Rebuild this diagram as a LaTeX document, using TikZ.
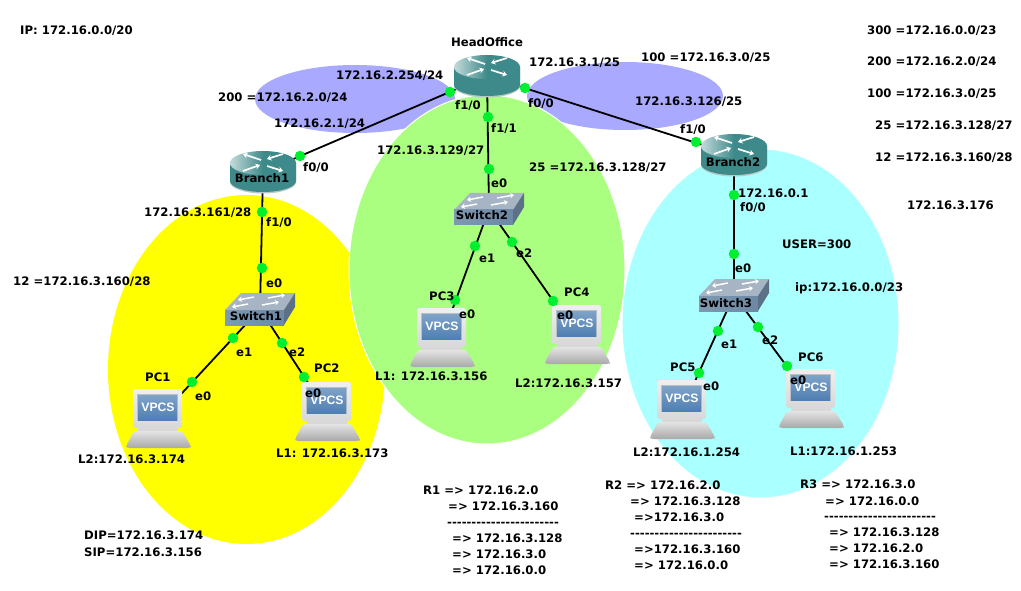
\documentclass[tikz,border=0pt]{standalone}
\usepackage{fontspec}
\setmainfont{DejaVu Sans}
\newfontfamily\vpfont{Liberation Sans}
\usetikzlibrary{arrows.meta}
\definecolor{lav}{HTML}{A9A9FF}
\definecolor{grn}{HTML}{AAFF80}
\definecolor{cyn}{HTML}{AAFFFF}
\definecolor{yel}{HTML}{FFFF00}
\definecolor{teal1}{HTML}{3E8A8A}
\definecolor{tealhi}{HTML}{C4DADA}
\definecolor{dotc}{HTML}{00F030}
\definecolor{swfront}{HTML}{6C88A4}
\definecolor{swfront2}{HTML}{7F99B2}
\definecolor{swtop}{HTML}{A6B4C4}
\definecolor{swside}{HTML}{5C7088}
\definecolor{scr1}{HTML}{4F7FB2}
\definecolor{scr2}{HTML}{7FA3C8}
\definecolor{scrb}{HTML}{B8C0C8}
\definecolor{pc1c}{HTML}{EFEFEF}
\definecolor{pc2c}{HTML}{D8D8D8}
\definecolor{pcb1}{HTML}{E4E4E4}
\definecolor{pcb2}{HTML}{A8A8A8}
\definecolor{shad}{HTML}{B8C8C8}
\newcommand{\labfont}{\fontsize{11.7}{14}\selectfont\bfseries}
\tikzset{
  lab/.style={anchor=west,inner sep=0pt,text height=9pt,text depth=0pt,font=\labfont,text=black},
  clab/.style={lab,anchor=center},
  devlab/.style={clab},
  zone/.style={draw=white,line width=1pt},
  link/.style={draw=black,line width=1.8pt},
  dot/.style={circle,fill=dotc,draw=none,minimum size=10.5pt,inner sep=0pt},
  arw/.style={draw=white,line width=1.7pt,-{Stealth[length=4.5pt,width=6pt]}},
  arws/.style={draw=white,line width=1.5pt,-{Stealth[length=4pt,width=5.5pt]}},
  router/.pic={
    \fill[shad] (-33,-9) -- (-33,10) arc[start angle=180,end angle=0,x radius=33,y radius=11.5] -- (33,-9) -- cycle;
    \fill[teal1] (-33,-9) -- (-33,9) arc[start angle=180,end angle=0,x radius=33,y radius=11] -- (33,-9) -- cycle;
    \shade[left color=tealhi,right color=teal1,middle color=teal1] (0,-9) ellipse[x radius=33,y radius=12];
    \draw[arw] (-2,-12) -- (-20,-18);
    \draw[arw] (20,-18) -- (4,-13);
    \draw[arw] (4,-6) -- (20,-1);
    \draw[arw] (-20,-1) -- (-3,-7);
  },
  swbox/.pic={
    \fill[swtop] (-35,1) -- (-19,-16) -- (35,-16) -- (24,1) -- cycle;
    \shade[left color=swfront2,right color=swfront] (-35,1) rectangle (24,16);
    \fill[swside] (24,1) -- (35,-16) -- (35,-2) -- (24,16) -- cycle;
    \draw[arws] (-6,-12) -- (-22,-9);
    \draw[arws] (8,-11) -- (25,-14);
    \draw[arws] (-12,-5) -- (-28,-2);
    \draw[arws] (2,-4) -- (19,-7);
  },
  vpcs/.pic={
    \fill[pc2c] (-20,8) rectangle (20,13);
    \shade[top color=pcb1,bottom color=pcb2,rounded corners=2.5pt] (-24,12) -- (24,12) -- (33,27) -- (32,29) -- (-31,29) -- (-32,27) -- cycle;
    \shade[top color=pc1c,bottom color=pc2c,rounded corners=2.5pt] (-25,-30) rectangle (24,9);
    \fill[scrb] (-21,-25) rectangle (20,2);
    \shade[top color=scr2,bottom color=scr1] (-20,-24) rectangle (19,1);
  },
}
\newcommand{\lab}[4]{\node[lab] (#1) at (#2,#3) {#4};}
\newcommand{\dashrow}{-{}-{}-{}-{}-{}-{}-{}-{}-{}-{}-{}-{}-{}-{}-{}-{}-{}-{}-{}-{}-{}-{}-}
\begin{document}
\begin{tikzpicture}[x=1pt,y=-1pt]
\useasboundingbox (0,0) rectangle (1021,591);
\fill[white] (0,0) rectangle (1021,591);
% zones
\fill[lav] (355,99) ellipse[x radius=100,y radius=34];
\fill[lav] (625,96) ellipse[x radius=98,y radius=34];
\fill[yel] (246.5,369.5) ellipse[x radius=138.5,y radius=174.5];
\path[zone,fill=grn] (487,269.5) ellipse[x radius=138,y radius=174.5];
\path[zone,fill=cyn] (760.5,323.5) ellipse[x radius=138.5,y radius=174.5];
% device centres
\coordinate (ho) at (487,76);
\coordinate (br1) at (263,172);
\coordinate (br2) at (734,155);
\coordinate (sw1) at (260,309);
\coordinate (sw2) at (489,209);
\coordinate (sw3) at (734,295);
\coordinate (pc1) at (158,419);
\coordinate (pc2) at (327,412);
\coordinate (pc3) at (442,338);
\coordinate (pc4) at (577,335);
\coordinate (pc5) at (682,410);
\coordinate (pc6) at (811,399);
% links
\draw[link] (ho) -- (br1);
\draw[link] (ho) -- (br2);
\draw[link] (ho) -- (sw2);
\draw[link] (br1) -- (sw1);
\draw[link] (br2) -- (sw3);
\draw[link] (sw1) -- (pc1);
\draw[link] (sw1) -- (pc2);
\draw[link] (sw2) -- (pc3);
\draw[link] (sw2) -- (pc4);
\draw[link] (sw3) -- (pc5);
\draw[link] (sw3) -- (pc6);
% devices
\pic at (ho) {router};
\pic at (br1) {router};
\pic at (br2) {router};
\pic at (sw1) {swbox};
\pic at (sw2) {swbox};
\pic at (sw3) {swbox};
\foreach \p in {pc1,pc2,pc3,pc4,pc5,pc6}{
  \pic at (\p) {vpcs};
  \node[inner sep=0pt,text=white,font=\vpfont\fontsize{12.2}{14}\selectfont\bfseries] (\p txt) at ([yshift=11.5pt]\p) {VPCS};
}
% interface dots
\node[dot] (d1) at (450,92) {};
\node[dot] (d2) at (525,88) {};
\node[dot] (d3) at (488,117) {};
\node[dot] (d4) at (489,169) {};
\node[dot] (d5) at (300,156) {};
\node[dot] (d6) at (262,212) {};
\node[dot] (d7) at (262,268) {};
\node[dot] (d8) at (233,338) {};
\node[dot] (d9) at (282,343) {};
\node[dot] (d10) at (192,382) {};
\node[dot] (d11) at (304,377) {};
\node[dot] (d12) at (475,246) {};
\node[dot] (d13) at (512,242) {};
\node[dot] (d14) at (455,300) {};
\node[dot] (d15) at (553,301) {};
\node[dot] (d16) at (696,142) {};
\node[dot] (d17) at (734,195) {};
\node[dot] (d18) at (734,254) {};
\node[dot] (d19) at (718,331) {};
\node[dot] (d20) at (758,327) {};
\node[dot] (d21) at (699,373) {};
\node[dot] (d22) at (787,366) {};
% device labels
\node[clab] (nho) at (487,42) {HeadOffice};
\node[devlab] (nbr1) at (262,178) {Branch1};
\node[devlab] (nbr2) at (733,162) {Branch2};
\node[devlab] (nsw1) at (256,316) {Switch1};
\node[devlab] (nsw2) at (482,215) {Switch2};
\node[devlab] (nsw3) at (726,303) {Switch3};
\lab{t1}{20}{30}{IP: 172.16.0.0/20}
\lab{t2}{336}{75}{172.16.2.254/24}
\lab{t3}{529}{62}{172.16.3.1/25}
\lab{t4}{641}{57}{100 =172.16.3.0/25}
\lab{t5}{635}{101}{172.16.3.126/25}
\lab{t6}{218}{97}{200 =172.16.2.0/24}
\lab{t7}{274}{123}{172.16.2.1/24}
\lab{t8}{455}{105}{f1/0}
\lab{t9}{528}{103}{f0/0}
\lab{t10}{491}{128}{f1/1}
\lab{t11}{377}{150}{172.16.3.129/27}
\lab{t12}{529}{167}{25 =172.16.3.128/27}
\lab{t13}{680}{129}{f1/0}
\lab{t14}{867}{30}{300 =172.16.0.0/23}
\lab{t15}{867}{61}{200 =172.16.2.0/24}
\lab{t16}{867}{93}{100 =172.16.3.0/25}
\lab{t17}{875}{125}{25 =172.16.3.128/27}
\lab{t18}{875}{157}{12 =172.16.3.160/28}
\lab{t19}{907}{205}{172.16.3.176}
\lab{t20}{303}{167}{f0/0}
\lab{t21}{144}{212}{172.16.3.161/28}
\lab{t22}{266}{222}{f1/0}
\lab{t23}{266}{283}{e0}
\lab{t24}{13}{281}{12 =172.16.3.160/28}
\lab{t25}{236}{352}{e1}
\lab{t26}{289}{352}{e2}
\lab{t27}{145}{377}{PC1}
\lab{t28}{195}{396}{e0}
\lab{t29}{314}{368}{PC2}
\lab{t30}{305}{393}{e0}
\lab{t31}{78}{459}{L2:172.16.3.174}
\lab{t32}{276}{453}{L1: 172.16.3.173}
\lab{t33}{84}{535}{DIP=172.16.3.174}
\lab{t34}{84}{552}{SIP=172.16.3.156}
\lab{t35}{491}{183}{e0}
\lab{t36}{479}{258}{e1}
\lab{t37}{516}{253}{e2}
\lab{t38}{429}{296}{PC3}
\lab{t39}{459}{314}{e0}
\lab{t40}{564}{292}{PC4}
\lab{t41}{557}{315}{e0}
\lab{t42}{375}{376}{L1: 172.16.3.156}
\lab{t43}{515}{383}{L2:172.16.3.157}
\lab{t44}{738}{193}{172.16.0.1}
\lab{t45}{740}{207}{f0/0}
\lab{t46}{782}{244}{USER=300}
\lab{t47}{735}{268}{e0}
\lab{t48}{795}{287}{ip:172.16.0.0/23}
\lab{t49}{721}{344}{e1}
\lab{t50}{762}{340}{e2}
\lab{t51}{670}{367}{PC5}
\lab{t52}{703}{386}{e0}
\lab{t53}{798}{357}{PC6}
\lab{t54}{790}{380}{e0}
\lab{t55}{633}{452}{L2:172.16.1.254}
\lab{t56}{790}{451}{L1:172.16.1.253}
% routing tables
\lab{r1}{423}{490}{R1 => 172.16.2.0}
\lab{r2}{448}{506}{=> 172.16.3.160}
\lab{r3}{447}{522}{\dashrow}
\lab{r4}{452}{538}{=> 172.16.3.128}
\lab{r5}{452}{554}{=> 172.16.3.0}
\lab{r6}{452}{570}{=> 172.16.0.0}
\lab{s1}{605}{485}{R2 => 172.16.2.0}
\lab{s2}{630}{501}{=> 172.16.3.128}
\lab{s3}{634}{517}{=>172.16.3.0}
\lab{s4}{630}{533}{\dashrow}
\lab{s5}{634}{549}{=>172.16.3.160}
\lab{s6}{634}{565}{=> 172.16.0.0}
\lab{q1}{800}{484}{R3 => 172.16.3.0}
\lab{q2}{825}{501}{=> 172.16.0.0}
\lab{q3}{824}{516}{\dashrow}
\lab{q4}{829}{532}{=> 172.16.3.128}
\lab{q5}{829}{548}{=> 172.16.2.0}
\lab{q6}{829}{564}{=> 172.16.3.160}
\end{tikzpicture}
\end{document}
